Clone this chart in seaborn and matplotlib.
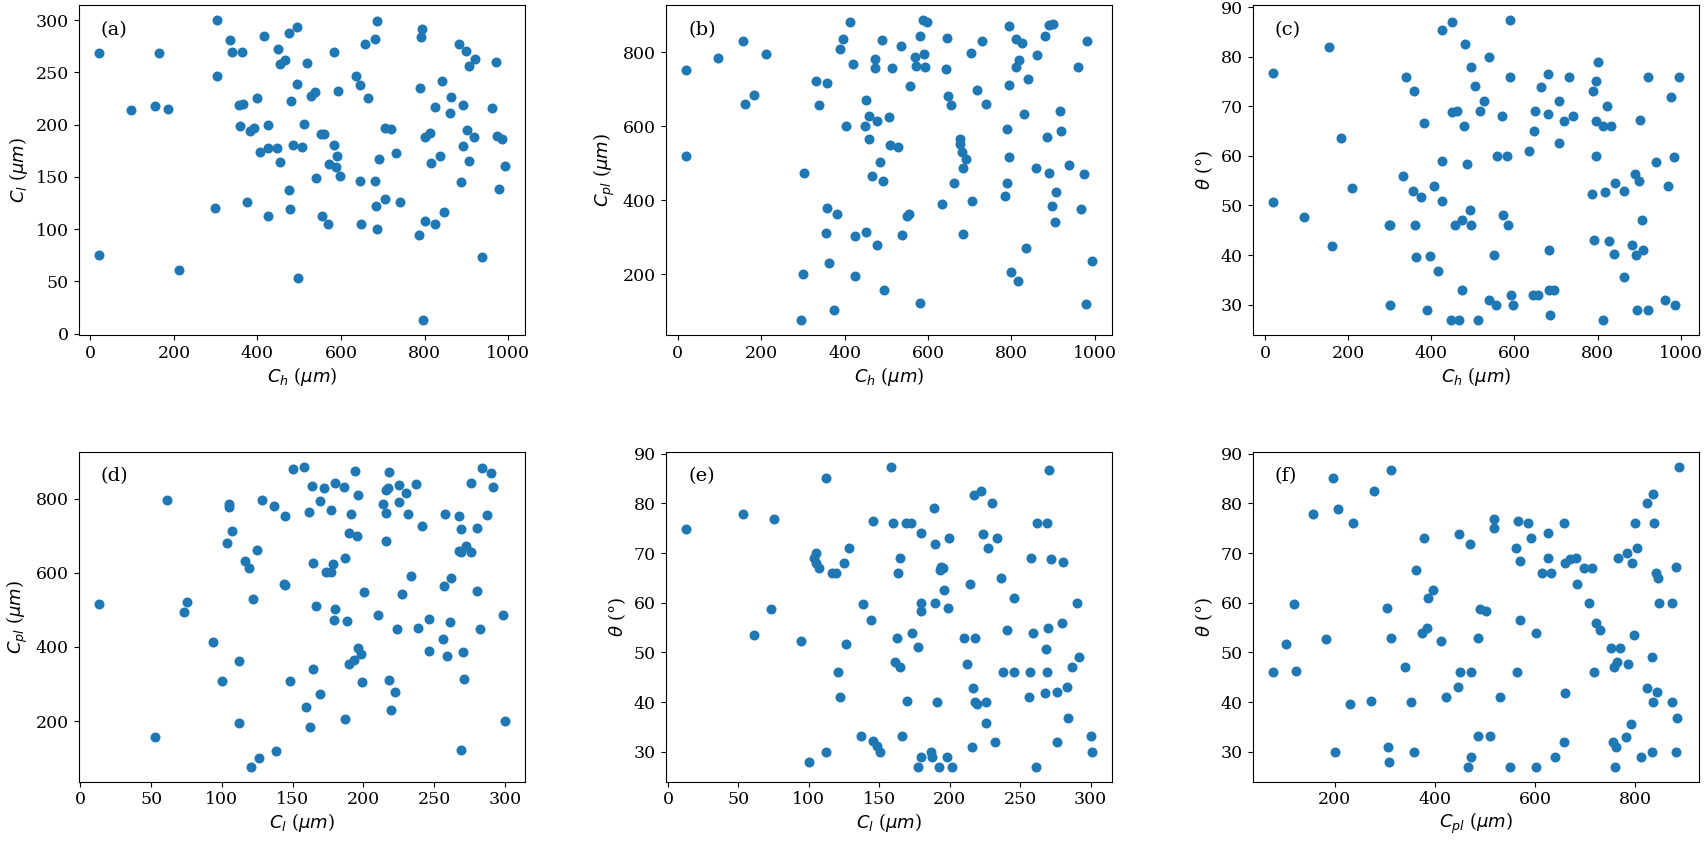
import matplotlib
matplotlib.use("Agg")
import matplotlib.pyplot as plt
from matplotlib.ticker import MultipleLocator
import seaborn as sns
import pandas as pd

plt.rcParams['font.family'] = ['DejaVu Serif']
plt.rcParams['mathtext.fontset'] = 'dejavusans'

# (a) C_h vs C_l
a_pts = [(21,268.5),(20,75.4),(98,214),(155,218),(163,268.5),(185,215),(211,61),(302,300),(302,246.6),(298,120),
         (333,280.6),(338,269.5),(362,269.5),(355,218.6),(365,219.5),(358,198.5),(383,193.4),(391,196.6),(375,126.3),
         (398,225.6),(415,284.8),(426,199.5),(405,173.7),(425,177.5),(426,112.3),(449,272),(453,257.7),(446,177.9),
         (454,164.5),(476,288),(494,293),(466,261.5),(518,258.7),(584,269.8),(686,298.8),(681,281.9),(658,276.8),
         (795,291),(792,284),(882,276.8),(900,270.8),(921,262.8),(907,256.4),(970,260),(494,239),(480,222.7),
         (528,227.5),(538,231),(592,231.6),(635,246.9),(646,237.7),(664,225),(790,234.8),(842,241.8),(863,225.9),
         (891,218.6),(826,216.7),(861,210.6),(961,215.7),(511,200.8),(552,191),(560,191),(583,180.7),(591,170),
         (572,162),(589,159),(598,150.8),(541,148.6),(486,180.7),(507,178.8),(475,137.8),(478,119.6),(497,53.5),
         (555,112.6),(570,105.3),(706,196.6),(719,195.4),(692,166.7),(732,172.8),(645,145.7),(681,145.7),(683,122.5),
         (706,128.5),(741,125.7),(649,104.4),(686,100.5),(800,188),(814,191.5),(816,163.2),(838,170),(902,195),
         (918,187.7),(893,179.8),(906,164.8),(888,144.8),(974,188.7),(985,186),(978,138.7),(846,116.5),(801,107.5),
         (825,105.3),(787,94.5),(938,73.5),(797,13),(992,160)]

# (b) C_h vs C_pl
b_pts = [(21,752),(20,520),(97,785),(156,829),(162,660),(183,685),(211,796),(302,473),(301,200),(296,77),(332,722),
         (359,718),(338,657),(357,380),(382,364),(356,312),(362,232),(375,103),(404,602),(389,809),(397,836),(414,881),
         (420,769),(491,832),(536,816),(473,782),(474,758),(515,758),(582,844),(588,887),(597,881),(568,787),(590,795),
         (571,763),(592,759),(558,708),(645,839),(643,754),(704,797),(730,831),(717,699),(739,661),(647,681),(655,657),
         (794,871),(812,836),(825,824),(819,778),(812,759),(795,712),(840,728),(862,792),(880,844),(890,874),(899,875),
         (982,831),(960,761),(451,672),(459,628),(478,614),(506,625),(448,602),(458,565),(510,550),(527,544),(484,503),
         (465,467),(493,451),(678,567),(678,553),(682,530),(691,512),(684,487),(663,448),(633,390),(706,397),(684,310),
         (550,357),(554,362),(426,305),(452,314),(479,279),(538,307),(426,196),(494,157),(582,124),(789,593),(830,633),
         (917,640),(918,586),(886,570),(794,518),(860,487),(891,473),(937,495),(974,470),(789,448),(906,423),(785,412),
         (897,385),(904,341),(967,377),(836,272),(799,206),(816,182),(993,237),(979,120)]

# (c) C_h vs theta
c_pts = [(19,76.8),(19,50.7),(95,47.7),(155,81.9),(162,41.8),(183,63.6),(210,53.5),(299,46),(302,46),(300,30),
         (339,76),(358,73),(333,56),(356,53),(376,51.7),(361,46),(364,39.6),(383,66.6),(398,39.9),(390,28.9),
         (416,36.8),(406,54),(427,85.3),(427,59),(426,50.9),(450,86.9),(450,68.8),(447,26.9),(589,87.4),(480,82.5),
         (538,80),(496,77.9),(590,76),(505,74),(528,71.1),(461,69),(517,69),(569,68),(478,66),(485,58.4),(559,60),
         (583,60),(635,61),(493,49),(475,47),(458,46),(495,46),(572,48),(585,46.1),(551,40),(474,33),(467,26.9),
         (512,26.9),(540,31),(556,30),(592,32),(597,30),(644,32),(657,32),(684,33),(694,33),(686,28),(682,41),
         (680,76.5),(663,73.9),(732,76),(706,71),(649,69),(681,68.4),(720,67),(741,68),(647,65),(706,62.5),(802,79),
         (796,75),(790,73),(822,70),(797,67),(814,66),(833,66),(796,60),(787,52.3),(817,52.8),(843,54.6),(863,53),
         (889,56.4),(900,55),(941,58.8),(983,59.8),(970,54),(921,76),(995,76),(977,71.8),(901,67.3),(906,47),
         (792,43),(828,42.8),(839,40.3),(882,42),(892,40),(908,41),(864,35.6),(814,26.9),(894,28.9),(920,28.9),
         (963,31),(986,30)]

# (d) C_l vs C_pl
d_pts = [(13,517),(53,157),(61.4,795.5),(73,494),(75.5,520),(94,412),(100.2,309),(104,680),(105.2,786),(105.2,777),
         (107.3,712),(112,361),(112,195),(116.3,631),(119,614),(122,530),(125,661),(120.5,77),(126,101),(128.5,797),
         (137,781),(138,120),(145,753),(150,880),(158,886),(163.4,834),(172.3,829),(180.3,843),(186.4,831),(194.5,875),
         (169.3,794),(161.3,763),(177.3,769),(191.4,758),(196.3,809),(218.4,873),(217.2,828),(216,822),(225.5,836),
         (230.4,816),(237.3,839),(214,785),(225.2,791),(215.8,760),(231.8,759),(241.8,727),(190.2,708),(195.4,698),
         (215.8,685),(164.3,627),(178.5,624),(173.5,602),(177.5,601),(187.4,640),(143.8,571),(145,566),(200.4,549),
         (166.4,511),(180.3,503),(179.3,472),(188.3,470),(210.2,487),(196.3,397),(198.2,381),(193.5,364),(190.2,353),
         (164.3,341),(148.2,307),(199.4,305),(169.3,272),(159.4,237),(162.3,183),(187.4,206),(218.4,312),(222.4,278),
         (219.4,230),(234,592),(227.3,544),(224.2,447),(238.4,450),(246.3,474),(246.3,389),(256.2,422),(259.2,376),
         (261.1,467),(270.3,385),(271.3,313),(269.1,123),(257.1,565),(262.3,586),(280.5,551),(282.6,447),(258.1,758),
         (268,752),(269,718),(280.1,722),(287.2,757),(268,659),(269,656),(272.3,672),(276.3,656),(276.1,843),
         (284.1,882),(290.2,870),(292,832),(299,487),(300,200)]

# (e) C_l vs theta
e_pts = [(12.8,74.9),(53.2,77.9),(75.2,76.8),(61.2,53.5),(73.2,58.8),(94.3,52.3),(112.5,85.2),(105.1,70),(104,69),
         (105.1,68),(107.5,67),(116.2,66),(119.6,66),(125.2,68),(128.3,71),(126.4,51.7),(120.5,46),(122.2,41),
         (100.4,28),(112.2,30),(137.3,33.1),(138.2,59.8),(144.4,56.5),(145.3,32.2),(148.2,31.2),(150.3,30),
         (145.5,76.5),(158.3,87.4),(159.5,76),(169.1,76),(172.4,76),(188.6,79),(179.4,74),(189.3,71.8),(199.5,73),
         (164.5,69),(163.6,66),(194.1,67.2),(195,67),(193,66.6),(196,62.5),(179.5,60),(179.5,58.4),(189.7,60),
         (198.8,59),(162.4,52.9),(173.5,54),(177.8,51),(161.3,48.1),(164.5,47),(169.6,40.3),(190.7,40),(166.3,33.1),
         (179.6,29),(177.8,27),(186.7,30),(187.7,29),(192.6,27),(197.8,29),(201.6,27),(215.7,31),(231.8,32),
         (225.6,35.7),(216.7,42.8),(218.1,40),(219.5,39.6),(225.9,40),(212.6,47.7),(209.8,53),(217.8,53),(214.7,63.7),
         (216.9,81.8),(222.1,82.6),(229.9,80),(223.7,73.9),(233.6,73),(226.8,71),(236.7,65),(245.6,61),(240.7,54.6),
         (237.6,46),(245.6,46),(256.7,46),(269,46),(256,41),(267.8,41.9),(276.1,42),(282.9,43),(258.8,54),(269.9,55),
         (268.1,50.7),(279.8,56),(286.9,47),(291.9,49),(290,60),(257.5,69),(271.7,68.8),(280.6,68.3),(261.8,76),
         (268.9,76),(270.8,86.8),(283.8,36.9),(275.8,32),(261.3,27),(300,33.1),(300.9,30)]

# (f) C_pl vs theta
f_pts = [(76.6,46),(102,51.7),(119.2,59.8),(122.5,46.2),(155.9,77.9),(182.5,52.8),(195.8,85.2),(205.8,78.9),
         (199.8,30),(237,76.1),(230.4,39.7),(271.7,40.3),(278.4,82.6),(313,86.8),(303.7,59),(311.7,53),(306.4,31),
         (309,28),(340.4,47),(352.4,40),(359.1,30),(362.4,66.7),(379,73),(395.7,62.5),(387,61),(375,54),(385,55),
         (411.7,52.3),(422.4,41),(447,73.8),(469.7,71.8),(449.7,46),(472.3,46),(446.3,43),(485,33.1),(472,29),
         (466.7,27),(489,58.8),(485,53),(518.4,76.8),(517,75),(565,76.5),(585.6,76),(591.6,73),(562.3,71),(570.3,68.4),
         (625,74),(657,76),(626.3,69),(613,66),(631.6,66),(660.3,68),(670.3,68.9),(681.7,69.1),(698.3,67),(712.3,67),
         (684.3,63.7),(707.6,60),(721.6,56),(728.3,54.6),(764.6,69),(783.3,70),(803.3,71),(793.3,68),(799.3,76),
         (836,76),(822,80),(834.7,81.9),(886.2,87.4),(840,66),(844,65),(880.3,67.3),(846,60),(872.7,60),(502.4,58.4),
         (568.9,56.5),(601.6,54),(564.3,46),(529.6,41),(510.8,33.1),(549.5,27),(600.8,27),(639.5,29),(656.8,32),
         (659.5,41.9),(717.5,46),(751.5,50.8),(768.8,50.9),(762.8,48.1),(756.8,47),(784.2,47.7),(796.2,53.5),
         (832.2,49),(823.5,42.8),(843.5,42),(834.8,40),(872.8,40),(882.1,36.9),(791.5,35.6),(780.9,33),(754.2,32),
         (760.2,31),(758.8,27),(810,29),(832,30),(881.4,30)]

lab_ch = r"$C_h$ ($\mu m$)"
lab_cl = r"$C_l$ ($\mu m$)"
lab_cpl = r"$C_{pl}$ ($\mu m$)"
lab_th = r"$\theta$ (°)"

panels = [("(a)", a_pts, lab_ch, lab_cl), ("(b)", b_pts, lab_ch, lab_cpl), ("(c)", c_pts, lab_ch, lab_th),
          ("(d)", d_pts, lab_cl, lab_cpl), ("(e)", e_pts, lab_cl, lab_th), ("(f)", f_pts, lab_cpl, lab_th)]

W, H = 1705, 841
fig = plt.figure(figsize=(W / 100, H / 100), dpi=100)
lefts = [78.5, 665.7, 1252.5]
tops = [5, 451.7]
aw, ah = 446.5, 330

for i, (tag, pts, xl, yl) in enumerate(panels):
    r, c = divmod(i, 3)
    rect = [lefts[c] / W, 1 - (tops[r] + ah) / H, aw / W, ah / H]
    ax = fig.add_axes(rect)
    df = pd.DataFrame(pts, columns=["x", "y"])
    sns.scatterplot(data=df, x="x", y="y", ax=ax, s=52, color="#1f77b4", linewidth=0, legend=False)
    ax.set_xlabel(xl, fontsize=13, labelpad=2)
    ax.set_ylabel(yl, fontsize=13, labelpad=4)
    if yl == lab_cpl:
        ax.yaxis.set_major_locator(MultipleLocator(200))
    if xl == lab_cpl:
        ax.xaxis.set_major_locator(MultipleLocator(200))
    ax.tick_params(labelsize=12.5)
    ax.text(0.05, 0.925, tag, transform=ax.transAxes, fontsize=14, va="center", ha="left")

fig.savefig("out.png", dpi=100)
